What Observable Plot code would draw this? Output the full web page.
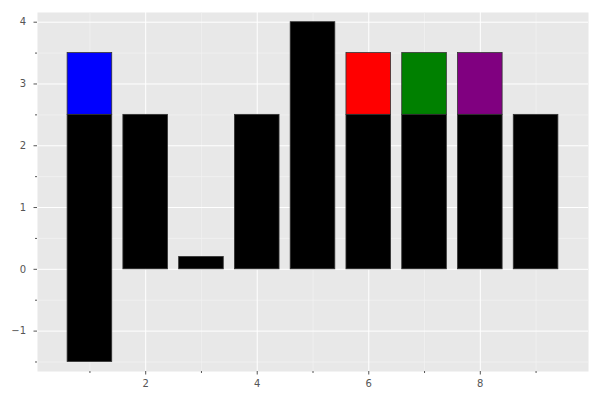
<!DOCTYPE html>
<html>
<head>
<meta charset="utf-8">
<script src="https://cdn.jsdelivr.net/npm/d3@7"></script>
<script src="https://cdn.jsdelivr.net/npm/@observablehq/plot@0.6"></script>
<style>
  html, body { margin: 0; padding: 0; background: #fff; }
  #chart svg { display: block; }
</style>
</head>
<body>
<div id="chart"></div>
<script>
const positions = [1, 2, 3, 4, 5, 6, 7, 8, 9];
const baseBottoms = [-1.5, 0, 0, 0, 0, 0, 0, 0, 0];
const baseTops = [2.5, 2.5, 0.2, 2.5, 4, 2.5, 2.5, 2.5, 2.5];
const topPositions = [1, 6, 7, 8];
const topBottoms = [2.5, 2.5, 2.5, 2.5];
const topTops = [3.5, 3.5, 3.5, 3.5];
const topColors = ["blue", "red", "green", "purple"];
const xMajorTicks = [2, 4, 6, 8];
const xMinorTicks = [1, 3, 5, 7, 9];
const yMajorTicks = [-1, 0, 1, 2, 3, 4];
const yMinorTicks = [-1.5, -0.5, 0.5, 1.5, 2.5, 3.5];
const barWidth = 0.8;

const baseBars = positions.map((p, i) => ({x: p, y1: baseBottoms[i], y2: baseTops[i]}));
const topBars = topPositions.map((p, i) => ({x: p, y1: topBottoms[i], y2: topTops[i], color: topColors[i]}));

const chart = Plot.plot({
  width: 600,
  height: 400,
  marginLeft: 37,
  marginRight: 12,
  marginTop: 12,
  marginBottom: 29,
  style: {fontFamily: "DejaVu Sans", fontSize: "10px", color: "#555", background: "#fff"},
  x: {type: "linear", domain: [0.06, 9.94]},
  y: {type: "linear", domain: [-1.654, 4.157]},
  marks: [
    Plot.frame({fill: "#E8E8E8", stroke: null}),
    Plot.gridX(xMinorTicks, {stroke: "#F2F2F2", strokeOpacity: 1, strokeWidth: 0.7}),
    Plot.gridY(yMinorTicks, {stroke: "#F2F2F2", strokeOpacity: 1, strokeWidth: 0.7}),
    Plot.gridX(xMajorTicks, {stroke: "#fff", strokeOpacity: 1, strokeWidth: 1}),
    Plot.gridY(yMajorTicks, {stroke: "#fff", strokeOpacity: 1, strokeWidth: 1}),
    Plot.rectY(topBars, {x1: d => d.x - barWidth / 2, x2: d => d.x + barWidth / 2, y1: "y1", y2: "y2", fill: d => d.color, stroke: "#333", strokeWidth: 0.8}),
    Plot.rectY(baseBars, {x1: d => d.x - barWidth / 2, x2: d => d.x + barWidth / 2, y1: "y1", y2: "y2", fill: "black", stroke: "#333", strokeWidth: 0.8}),
    Plot.axisX(xMajorTicks, {tickSize: 3.5, tickPadding: 5, stroke: "#555", fill: "#555", tickFormat: d => d.toString(), fontSize: 10}),
    Plot.axisX(xMinorTicks, {tickSize: 2, stroke: "#555", text: null}),
    Plot.axisY(yMajorTicks, {tickSize: 3.5, tickPadding: 8, stroke: "#555", fill: "#555", tickFormat: d => d < 0 ? "\u2212" + Math.abs(d) : d.toString(), fontSize: 10}),
    Plot.axisY(yMinorTicks, {tickSize: 2, stroke: "#555", text: null})
  ],
  color: {type: "identity"}
});
document.getElementById("chart").appendChild(chart);
</script>
</body>
</html>
